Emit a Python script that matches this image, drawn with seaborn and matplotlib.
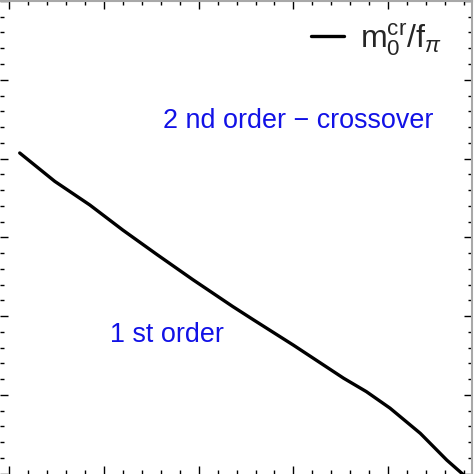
import matplotlib
matplotlib.use("Agg")
import matplotlib.pyplot as plt
from matplotlib.ticker import MultipleLocator
import seaborn as sns
import pandas as pd

# data
x_vals = [0.11, 0.48, 0.85, 1.20, 1.56, 1.94, 2.36, 2.58, 3.00, 3.53, 3.77, 4.02, 4.34, 4.62, 4.79]
y_vals = [4.07, 3.71, 3.41, 3.09, 2.78, 2.46, 2.12, 1.95, 1.63, 1.21, 1.04, 0.83, 0.51, 0.17, -0.01]
series_label = r"m$_0^{\mathrm{cr}}$/f$_\pi$"
region_labels = ["2 nd order \u2212 crossover", "1 st order"]

df = pd.DataFrame({"x": x_vals, "y": y_vals})

sns.set_style("ticks")
plt.rcParams["font.family"] = ["Liberation Sans", "DejaVu Sans"]
plt.rcParams["mathtext.fontset"] = "custom"
plt.rcParams["mathtext.rm"] = "Liberation Sans"
plt.rcParams["mathtext.it"] = "Liberation Sans:italic"
plt.rcParams["mathtext.bf"] = "Liberation Sans:bold"

fig = plt.figure(figsize=(4.74, 4.74), dpi=100)
W = H = 474.0
ax = fig.add_axes([0.0, 0.5 / H, 472.0 / W, 472.5 / H])

sns.lineplot(data=df, x="x", y="y", ax=ax, color="black", lw=2.4,
             sort=False, estimator=None, label=series_label)

ax.set_xlim(-9.3 / 94.7, (472 - 9.3) / 94.7)
ax.set_ylim(0, 6)
ax.xaxis.set_major_locator(MultipleLocator(1))
ax.xaxis.set_minor_locator(MultipleLocator(0.2))
ax.yaxis.set_major_locator(MultipleLocator(1))
ax.yaxis.set_minor_locator(MultipleLocator(0.2))
ax.tick_params(which="both", direction="in", top=True, right=True,
               labelbottom=False, labelleft=False, color="black", width=1.0)
ax.tick_params(which="major", length=5.5)
ax.tick_params(which="minor", length=3.2)
ax.set_xlabel("")
ax.set_ylabel("")

for side in ["left", "bottom"]:
    ax.spines[side].set_visible(False)
for side in ["top", "right"]:
    ax.spines[side].set_color("#a8a8a8")
    ax.spines[side].set_linewidth(1.5)

ax.text(1.62, 4.383, region_labels[0], color="#1212e6", fontsize=19.4, va="baseline", ha="left")
ax.text(1.063, 1.674, region_labels[1], color="#1212e6", fontsize=19.4, va="baseline", ha="left")

leg = ax.legend(loc="upper right", frameon=False, fontsize=23, handlelength=1.03,
                handletextpad=0.52, borderpad=0.0, borderaxespad=0.0,
                bbox_to_anchor=(442.0 / 472.0, (473.5 - 21.0) / 472.5))

fig.savefig("out.png", dpi=100)
